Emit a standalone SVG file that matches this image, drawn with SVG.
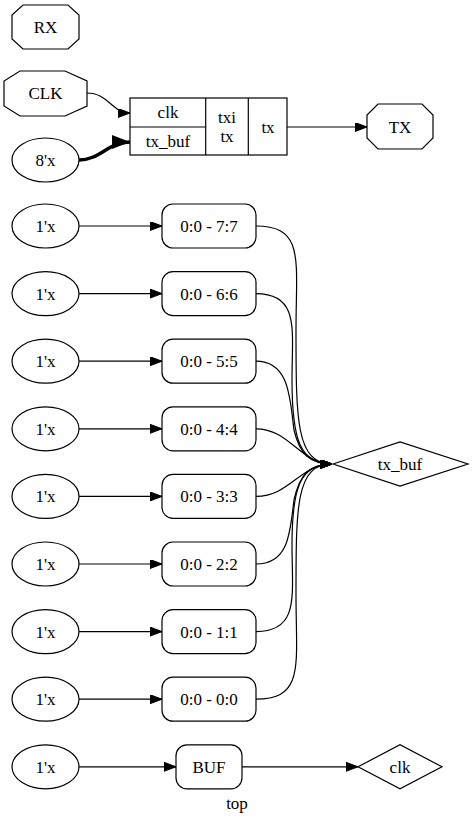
<svg xmlns="http://www.w3.org/2000/svg" width="474" height="823" viewBox="0 0 474 823">
<style>
text{font-family:"Liberation Serif","Times New Roman",serif;font-size:17px;text-anchor:middle;fill:#000}
.s{fill:#fff;stroke:#000;stroke-width:1.2}
.e{fill:none;stroke:#000;stroke-width:1.2}
.t{fill:none;stroke:#000;stroke-width:3.5}
</style>
<defs>
<marker id="a" markerUnits="userSpaceOnUse" markerWidth="13" markerHeight="10" refX="12" refY="4.5" orient="auto"><polygon points="0,0 12,4.5 0,9" fill="#000" stroke="#000" stroke-width="1"/></marker>
<marker id="b" markerUnits="userSpaceOnUse" markerWidth="20" markerHeight="16" refX="18" refY="7" orient="auto"><polygon points="0,0 18,7 0,14" fill="#000"/></marker>
</defs>
<rect width="474" height="823" fill="#fff"/>
<g id="connectors">
<path class="e" d="M87,93 C108,93 112,113 130,113" marker-end="url(#a)"/>
<path class="t" d="M79,160 C100,160 108,142 130,142" marker-end="url(#b)"/>
<path class="e" d="M287,127 L367,127" marker-end="url(#a)"/>
<path class="e" d="M79,226 L162,226" marker-end="url(#a)"/>
<path class="e" d="M79,293.6 L162,293.6" marker-end="url(#a)"/>
<path class="e" d="M79,361.2 L162,361.2" marker-end="url(#a)"/>
<path class="e" d="M79,428.8 L162,428.8" marker-end="url(#a)"/>
<path class="e" d="M79,496.4 L162,496.4" marker-end="url(#a)"/>
<path class="e" d="M79,564 L162,564" marker-end="url(#a)"/>
<path class="e" d="M79,631.6 L162,631.6" marker-end="url(#a)"/>
<path class="e" d="M79,699.2 L162,699.2" marker-end="url(#a)"/>
<path class="e" d="M79,766.8 L176,766.8" marker-end="url(#a)"/>
<path class="e" d="M242,766.8 L358,766.8" marker-end="url(#a)"/>
<path class="e" d="M256,226 C305,226 296,260 296,330 C296,420 296,464 332,464" marker-end="url(#a)"/>
<path class="e" d="M256,293.6 C300,293.6 292,330 292,380 C292,440 300,464 332,464" marker-end="url(#a)"/>
<path class="e" d="M256,361.2 C290,361.2 290,400 294,430 C300,455 310,464 332,464" marker-end="url(#a)"/>
<path class="e" d="M256,428.8 C290,428.8 300,464 332,464" marker-end="url(#a)"/>
<path class="e" d="M256,496.4 C290,496.4 300,464 332,464" marker-end="url(#a)"/>
<path class="e" d="M256,564 C290,564 290,530 294,500 C300,473 310,464 332,464" marker-end="url(#a)"/>
<path class="e" d="M256,631.6 C300,631.6 292,595 292,545 C292,488 300,464 332,464" marker-end="url(#a)"/>
<path class="e" d="M256,699.2 C305,699.2 296,665 296,595 C296,505 296,464 332,464" marker-end="url(#a)"/>
</g>
<g id="RX"><polygon class="s" points="23,5 68,5 79,15 79,39 68,49 23,49 12,39 12,15"/><text x="45.5" y="33">RX</text></g>
<g id="CLK"><polygon class="s" points="20,71 65,71 87,81 87,106 65,116 20,116 4,106 4,81"/><text x="45.5" y="99">CLK</text></g>
<g id="x8"><ellipse class="s" cx="45.5" cy="160" rx="33.5" ry="22"/><text x="45.5" y="166">8'x</text></g>
<g id="cell">
<rect class="s" x="130" y="98" width="157" height="57"/>
<line class="e" x1="130" y1="127" x2="205.7" y2="127"/>
<line class="e" x1="205.7" y1="98" x2="205.7" y2="155"/>
<line class="e" x1="248.3" y1="98" x2="248.3" y2="155"/>
<text x="168" y="118">clk</text>
<text x="168" y="147">tx_buf</text>
<text x="227" y="123">txi</text>
<text x="227" y="142">tx</text>
<text x="268" y="133">tx</text>
</g>
<g id="TX"><polygon class="s" points="378,104 422,104 433,115 433,138 422,149 378,149 367,138 367,115"/><text x="400" y="133">TX</text></g>
<g id="in7"><ellipse class="s" cx="45.5" cy="226" rx="33.5" ry="22"/><text x="45.5" y="232">1'x</text></g>
<g id="in6"><ellipse class="s" cx="45.5" cy="293.6" rx="33.5" ry="22"/><text x="45.5" y="299.6">1'x</text></g>
<g id="in5"><ellipse class="s" cx="45.5" cy="361.2" rx="33.5" ry="22"/><text x="45.5" y="367.2">1'x</text></g>
<g id="in4"><ellipse class="s" cx="45.5" cy="428.8" rx="33.5" ry="22"/><text x="45.5" y="434.8">1'x</text></g>
<g id="in3"><ellipse class="s" cx="45.5" cy="496.4" rx="33.5" ry="22"/><text x="45.5" y="502.4">1'x</text></g>
<g id="in2"><ellipse class="s" cx="45.5" cy="564" rx="33.5" ry="22"/><text x="45.5" y="570">1'x</text></g>
<g id="in1"><ellipse class="s" cx="45.5" cy="631.6" rx="33.5" ry="22"/><text x="45.5" y="637.6">1'x</text></g>
<g id="in0"><ellipse class="s" cx="45.5" cy="699.2" rx="33.5" ry="22"/><text x="45.5" y="705.2">1'x</text></g>
<g id="inbuf"><ellipse class="s" cx="45.5" cy="766.8" rx="33.5" ry="22"/><text x="45.5" y="772.8">1'x</text></g>
<g id="b7"><rect class="s" x="162" y="204" width="94" height="44" rx="11"/><text x="209" y="232">0:0 - 7:7</text></g>
<g id="b6"><rect class="s" x="162" y="271.6" width="94" height="44" rx="11"/><text x="209" y="299.6">0:0 - 6:6</text></g>
<g id="b5"><rect class="s" x="162" y="339.2" width="94" height="44" rx="11"/><text x="209" y="367.2">0:0 - 5:5</text></g>
<g id="b4"><rect class="s" x="162" y="406.8" width="94" height="44" rx="11"/><text x="209" y="434.8">0:0 - 4:4</text></g>
<g id="b3"><rect class="s" x="162" y="474.4" width="94" height="44" rx="11"/><text x="209" y="502.4">0:0 - 3:3</text></g>
<g id="b2"><rect class="s" x="162" y="542" width="94" height="44" rx="11"/><text x="209" y="570">0:0 - 2:2</text></g>
<g id="b1"><rect class="s" x="162" y="609.6" width="94" height="44" rx="11"/><text x="209" y="637.6">0:0 - 1:1</text></g>
<g id="b0"><rect class="s" x="162" y="677.2" width="94" height="44" rx="11"/><text x="209" y="705.2">0:0 - 0:0</text></g>
<g id="BUF"><rect class="s" x="176" y="744.8" width="66" height="44" rx="11"/><text x="209" y="772.8">BUF</text></g>
<g id="txbuf"><polygon class="s" points="333,464 400,442 468,464 400,486"/><text x="400" y="470">tx_buf</text></g>
<g id="clk"><polygon class="s" points="358,766.8 400,744.8 442,766.8 400,788.8"/><text x="400" y="772.8">clk</text></g>
<text x="237" y="809">top</text>
</svg>
